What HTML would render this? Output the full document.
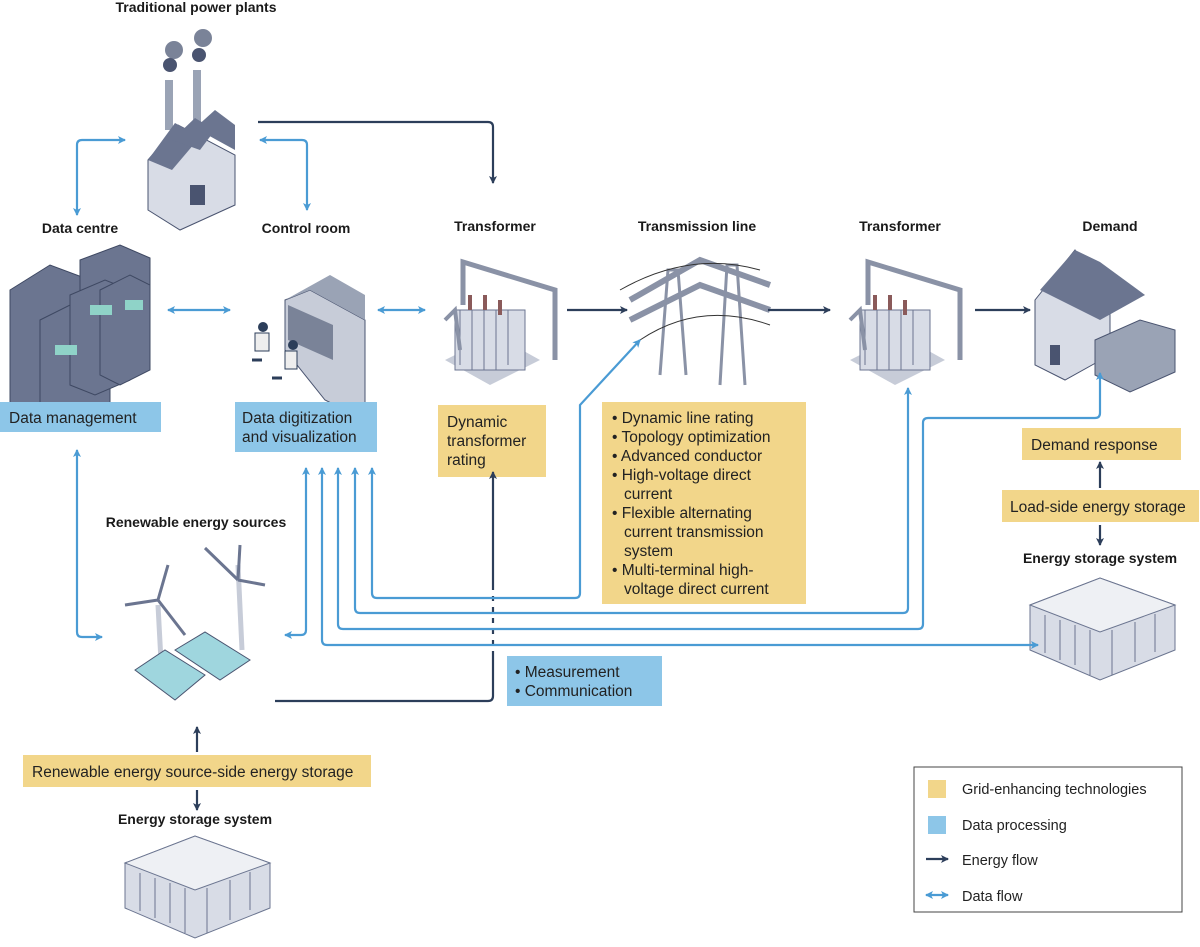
<!DOCTYPE html>
<html><head><meta charset="utf-8"><style>
body{margin:0;background:#fff;}
svg text{font-family:"Liberation Sans",sans-serif;}
.t{font-weight:bold;font-size:14px;fill:#1a1a1a;text-anchor:middle}
.b{font-size:15.5px;fill:#222}
</style></head><body>
<svg width="1200" height="942" viewBox="0 0 1200 942" xmlns="http://www.w3.org/2000/svg">
<defs>
<marker id="ab" markerWidth="8" markerHeight="8" refX="7" refY="4" orient="auto" markerUnits="userSpaceOnUse"><path d="M0,0 L8,4 L0,8 L2,4z" fill="#4a9bd4"/></marker>
<marker id="abs" markerWidth="8" markerHeight="8" refX="1" refY="4" orient="auto" markerUnits="userSpaceOnUse"><path d="M8,0 L0,4 L8,8 L6,4z" fill="#4a9bd4"/></marker>
<marker id="ad" markerWidth="8" markerHeight="8" refX="7" refY="4" orient="auto" markerUnits="userSpaceOnUse"><path d="M0,0 L8,4 L0,8 L2,4z" fill="#2c3e5a"/></marker>
</defs>

<text class="t" x="196" y="12">Traditional power plants</text>
<text class="t" x="80" y="233">Data centre</text>
<text class="t" x="306" y="233">Control room</text>
<text class="t" x="495" y="231">Transformer</text>
<text class="t" x="697" y="231">Transmission line</text>
<text class="t" x="900" y="231">Transformer</text>
<text class="t" x="1110" y="231">Demand</text>
<text class="t" x="196" y="527">Renewable energy sources</text>
<text class="t" x="1100" y="563">Energy storage system</text>
<text class="t" x="195" y="824">Energy storage system</text>

<!-- factory -->
<g>
<rect x="165" y="80" width="8" height="50" fill="#9aa3b5"/><rect x="193" y="70" width="8" height="55" fill="#9aa3b5"/>
<circle cx="174" cy="50" r="9" fill="#7a8398"/><circle cx="170" cy="65" r="7" fill="#4a5470"/><circle cx="203" cy="38" r="9" fill="#7a8398"/><circle cx="199" cy="55" r="7" fill="#4a5470"/>
<polygon points="148,160 178,125 235,155 235,205 180,230 148,210" fill="#d8dce6" stroke="#4a5470"/>
<polygon points="148,160 175,123 200,137 172,170" fill="#6b7590"/>
<polygon points="172,140 195,118 215,130 200,150" fill="#6b7590"/>
<polygon points="195,128 215,110 235,125 235,150" fill="#6b7590"/>
<rect x="190" y="185" width="15" height="20" fill="#4a5470"/>
</g>
<!-- data centre -->
<g fill="#6b7590" stroke="#3e4862">
<polygon points="10,290 50,265 90,280 90,400 50,425 10,410"/>
<polygon points="40,320 80,300 110,312 110,410 70,430 40,418"/>
<polygon points="80,260 120,245 150,258 150,325 110,345 80,330"/>
<polygon points="70,295 105,280 130,290 130,380 95,395 70,385"/>
<polygon points="100,290 130,275 150,285 150,370 120,385 100,375"/>
<rect x="55" y="345" width="22" height="10" fill="#8fd3c8" stroke="none"/><rect x="90" y="305" width="22" height="10" fill="#8fd3c8" stroke="none"/><rect x="125" y="300" width="18" height="10" fill="#8fd3c8" stroke="none"/>
</g>
<!-- control room -->
<g>
<polygon points="285,300 310,290 365,320 365,420 325,400 285,350" fill="#c7ccd8" stroke="#4a5470"/>
<polygon points="285,300 330,275 365,295 365,320 310,290" fill="#9aa3b5"/>
<polygon points="288,305 333,325 333,360 288,340" fill="#7a8398"/>
<circle cx="263" cy="327" r="5" fill="#2c3e5a"/><rect x="255" y="333" width="14" height="18" fill="#eee" stroke="#2c3e5a"/>
<circle cx="293" cy="345" r="5" fill="#2c3e5a"/><rect x="285" y="351" width="12" height="18" fill="#eee" stroke="#2c3e5a"/>
<path d="M252 360 l10 0 M272 378 l10 0" stroke="#2c3e5a" stroke-width="3"/>
</g>
<!-- transformers -->
<g id="tr" fill="none">
<polygon points="445,360 490,385 540,360 495,335" fill="#c7ccd8"/>
<rect x="455" y="310" width="70" height="60" fill="#d8dce6" stroke="#6b7590"/>
<path d="M460 310 v55 M472 310 v60 M484 310 v60 M496 310 v60 M508 310 v55" stroke="#6b7590"/>
<path d="M463 305 L463 262 L555 290 L555 360" stroke="#8a92a6" stroke-width="5"/>
<path d="M470 295 v15 M485 295 v15 M500 300 v15" stroke="#8a5a5a" stroke-width="4"/>
<path d="M445 320 l10 -10 l5 40" stroke="#8a92a6" stroke-width="4"/>
</g>
<use href="#tr" x="405" y="0"/>
<!-- transmission tower -->
<g stroke="#8a92a6" stroke-width="3" fill="none">
<path d="M660 375 L668 270 L678 270 L686 375 M720 385 L727 265 L737 265 L745 385"/>
<path d="M630 300 L700 260 L770 285 M630 320 L700 285 L770 310" stroke-width="6"/>
<path d="M620 290 Q690 250 760 270 M640 340 Q700 300 770 325" stroke="#333" stroke-width="1"/>
</g>
<!-- house -->
<g>
<polygon points="1035,300 1035,365 1065,380 1110,355 1110,300 1075,250" fill="#d8dce6" stroke="#4a5470"/>
<polygon points="1040,290 1075,250 1100,262 1145,295 1100,320" fill="#6b7590"/>
<polygon points="1095,340 1140,320 1175,330 1175,372 1130,392 1095,375" fill="#9aa3b5" stroke="#4a5470"/>
<rect x="1050" y="345" width="10" height="20" fill="#4a5470"/>
</g>
<!-- wind+solar -->
<g stroke="#4a5470" fill="none">
<path d="M158 605 L162 680 M238 565 L242 650" stroke="#c7ccd8" stroke-width="5"/>
<path d="M158 600 L125 605 M158 600 L185 635 M158 600 L168 565 M238 580 L205 548 M238 580 L265 585 M238 580 L240 545" stroke="#6b7590" stroke-width="3"/>
<polygon points="135,670 165,650 205,675 175,700" fill="#9fd6de"/>
<polygon points="175,650 205,632 250,660 220,680" fill="#9fd6de"/>
</g>
<!-- storage -->
<g id="st">
<polygon points="1030,605 1100,578 1175,605 1175,650 1100,680 1030,650" fill="#d8dce6" stroke="#6b7590"/>
<polygon points="1030,605 1100,578 1175,605 1100,632" fill="#eef0f4" stroke="#6b7590"/>
<path d="M1045 615 v38 M1060 620 v40 M1075 625 v40 M1090 630 v45 M1112 630 v45 M1135 622 v40 M1155 614 v38" stroke="#6b7590"/>
</g>
<use href="#st" x="-905" y="258"/>

<!-- boxes -->
<rect x="0" y="402" width="161" height="30" fill="#8dc6e8"/>
<text class="b" x="9" y="423">Data management</text>
<rect x="235" y="402" width="142" height="50" fill="#8dc6e8"/>
<text class="b" x="242" y="423">Data digitization</text><text class="b" x="242" y="442">and visualization</text>
<rect x="438" y="405" width="108" height="72" fill="#f2d68a"/>
<text class="b" x="447" y="427">Dynamic</text><text class="b" x="447" y="446">transformer</text><text class="b" x="447" y="465">rating</text>
<rect x="602" y="402" width="204" height="202" fill="#f2d68a"/>
<g class="b"><text x="612" y="423">• Dynamic line rating</text><text x="612" y="442">• Topology optimization</text><text x="612" y="461">• Advanced conductor</text><text x="612" y="480">• High-voltage direct</text><text x="624" y="499">current</text><text x="612" y="518">• Flexible alternating</text><text x="624" y="537">current transmission</text><text x="624" y="556">system</text><text x="612" y="575">• Multi-terminal high-</text><text x="624" y="594">voltage direct current</text></g>
<rect x="507" y="656" width="155" height="50" fill="#8dc6e8"/>
<text class="b" x="515" y="677">• Measurement</text><text class="b" x="515" y="696">• Communication</text>
<rect x="1022" y="428" width="159" height="32" fill="#f2d68a"/><text class="b" x="1031" y="450">Demand response</text>
<rect x="1002" y="490" width="197" height="32" fill="#f2d68a"/><text class="b" x="1010" y="512">Load-side energy storage</text>
<rect x="23" y="755" width="348" height="32" fill="#f2d68a"/><text class="b" x="32" y="777">Renewable energy source-side energy storage</text>

<!-- energy flow -->
<g stroke="#2c3e5a" stroke-width="2.2" fill="none" marker-end="url(#ad)">
<path d="M258 122 H488 q5 0 5 5 V183"/>
<path d="M567 310 H627"/><path d="M768 310 H830"/><path d="M975 310 H1030"/>
<path d="M275 701 H488 q5 0 5 -5 V472"/>
<path d="M1100 488 V462"/><path d="M1100 525 V545"/>
<path d="M197 752 V727"/><path d="M197 790 V810"/>
</g>
<path d="M493 590 V652" stroke="#fff" stroke-width="3" stroke-dasharray="6 5"/>

<!-- data flow -->
<g stroke="#4a9bd4" stroke-width="2.2" fill="none" marker-end="url(#ab)">
<path d="M77 215 V145 q0 -5 5 -5 H125" marker-start="url(#abs)"/>
<path d="M260 140 H302 q5 0 5 5 V210" marker-start="url(#abs)"/>
<path d="M168 310 H230" marker-start="url(#abs)"/>
<path d="M378 310 H425" marker-start="url(#abs)"/>
<path d="M77 450 V632 q0 5 5 5 H102" marker-start="url(#abs)"/>
<path d="M306 468 V630 q0 5 -5 5 H285" marker-start="url(#abs)"/>
<path d="M322 468 V640 q0 5 5 5 H1038" marker-start="url(#abs)"/>
<path d="M338 468 V624 q0 5 5 5 H918 q5 0 5 -5 V423 q0 -5 5 -5 H1095 q5 0 5 -5 V373" marker-start="url(#abs)"/>
<path d="M355 468 V608 q0 5 5 5 H903 q5 0 5 -5 V388" marker-start="url(#abs)"/>
<path d="M372 468 V593 q0 5 5 5 H575 q5 0 5 -5 V405 L640 340" marker-start="url(#abs)"/>
</g>

<!-- legend -->
<rect x="914" y="767" width="268" height="145" fill="#fff" stroke="#444" stroke-width="1"/>
<rect x="928" y="780" width="18" height="18" fill="#f2d68a"/><text class="b" x="962" y="794" style="font-size:14.5px">Grid-enhancing technologies</text>
<rect x="928" y="816" width="18" height="18" fill="#8dc6e8"/><text class="b" x="962" y="830" style="font-size:14.5px">Data processing</text>
<path d="M926 859 H948" stroke="#2c3e5a" stroke-width="2.2" marker-end="url(#ad)"/><text class="b" x="962" y="865" style="font-size:14.5px">Energy flow</text>
<path d="M926 895 H948" stroke="#4a9bd4" stroke-width="2.2" marker-end="url(#ab)" marker-start="url(#abs)"/><text class="b" x="962" y="901" style="font-size:14.5px">Data flow</text>
</svg>
</body></html>
